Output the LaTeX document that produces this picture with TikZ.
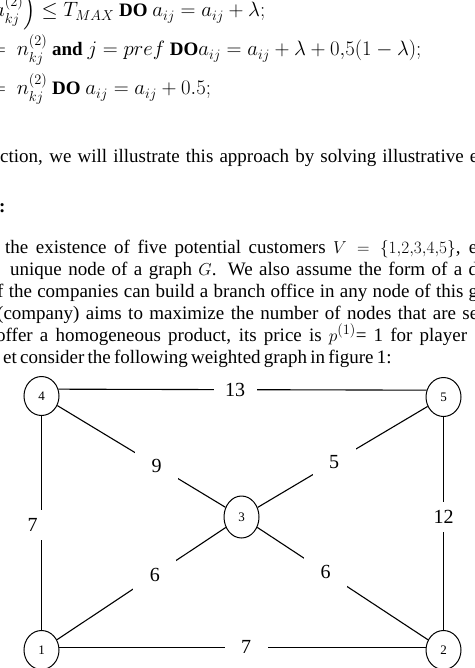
\documentclass[tikz,border=0pt]{standalone}
\usepackage{amsmath}
\usepackage{fontspec}
\setmainfont{Liberation Serif}
\usetikzlibrary{shapes.geometric}
\newcommand{\DO}{\textbf{DO}}
\newcommand{\eqpart}[1]{{\fontsize{19.5}{23}\selectfont$#1$}}
\newcommand{\txtline}[2]{\hbox to #1pt{#2}}

\begin{document}
\begin{tikzpicture}[x=1pt, y=-1pt,
  txt/.style={anchor=base west, inner sep=0pt, font=\fontsize{19}{22}\selectfont},
  vertex/.style={draw, ellipse, line width=1pt, minimum width=35pt, minimum height=39pt,
                 inner sep=0pt, font=\fontsize{13}{15}\selectfont},
  edge/.style={line width=1.1pt},
  wlabel/.style={fill=white, minimum width=43pt, minimum height=30pt, inner sep=0pt,
                 font=\fontsize{20}{22}\selectfont}
]
\useasboundingbox (0,0) rectangle (474,668);
\clip (0,0) rectangle (474,668);

\node[txt] (l1) at (-6,17) {\eqpart{a^{(2)}_{kj}\Big)\le T_{MAX}} \DO{} \eqpart{a_{ij}=a_{ij}+\lambda;}};
\node[txt] (l2) at (-9,56) {\eqpart{=\ n^{(2)}_{kj}} \textbf{and} \eqpart{j=pref} \DO\eqpart{a_{ij}=a_{ij}+\lambda+0{,}5(1-\lambda);}};
\node[txt] (l3) at (-9,95) {\eqpart{=\ n^{(2)}_{kj}} \DO{} \eqpart{a_{ij}=a_{ij}+0.5;}};
\node[txt] (l4) at (0,163) {\txtline{478}{ction, we will illustrate this approach by solving illustrative e}};
\node[txt] (l5) at (-1,212) {\textbf{:}};
\node[txt] (l6) at (5,253) {\txtline{472}{the existence of five potential customers $V=\{1{,}2{,}3{,}4{,}5\}$, e}};
\node[txt] (l7) at (10,275) {\txtline{468}{unique node of a graph $G$. We also assume the form of a d}};
\node[txt] (l8) at (-3,297) {\txtline{481}{f the companies can build a branch office in any node of this g}};
\node[txt] (l9) at (-3,319) {\txtline{481}{(company) aims to maximize the number of nodes that are se}};
\node[txt] (l10) at (-4,341) {\txtline{471}{offer a homogeneous product, its price is $p^{(1)}$= 1 for player}};
\node[txt] (l11) at (3,363) {\txtline{388}{et consider the following weighted graph in figure 1:}};

\node[vertex] (n4) at (41.5,396) {4};
\node[vertex] (n5) at (443.5,397) {5};
\node[vertex, minimum height=42pt] (n3) at (241.5,517) {3};
\node[vertex] (n1) at (41.5,650) {1};
\node[vertex] (n2) at (443.5,650) {2};

\draw[edge] (n4.22) -- (n5.158) node[wlabel,pos=0.48]{13};
\draw[edge] (n1.9) -- (n2.171) node[wlabel,pos=0.51]{7};
\draw[edge] (n4) -- (n1) node[wlabel,pos=0.51,xshift=-9pt]{7};
\draw[edge] (n5) -- (n2) node[wlabel,pos=0.47]{12};
\draw[edge] (n4) -- (n3) node[wlabel,pos=0.59]{9};
\draw[edge] (n5) -- (n3) node[wlabel,pos=0.55]{5};
\draw[edge] (n3) -- (n1) node[wlabel,pos=0.42]{6};
\draw[edge] (n3) -- (n2) node[wlabel,pos=0.40]{6};
\end{tikzpicture}
\end{document}
